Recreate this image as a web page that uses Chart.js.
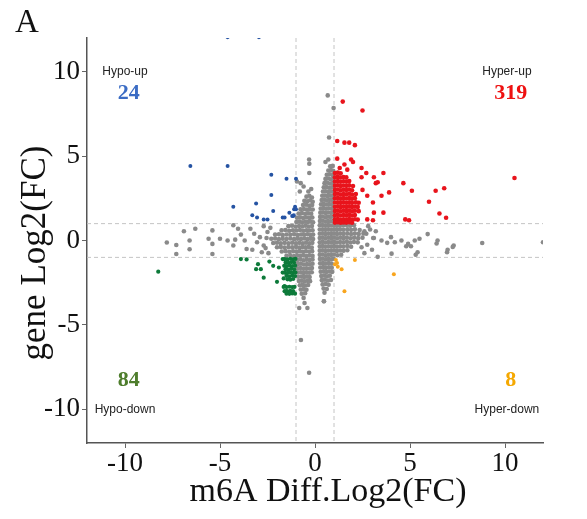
<!DOCTYPE html>
<html>
<head>
<meta charset="utf-8">
<script src="https://cdn.jsdelivr.net/npm/chart.js@4.4.1/dist/chart.umd.min.js"></script>
<style>
  body { margin: 0; background: #fff; }
</style>
</head>
<body>
<canvas id="volcano" width="587" height="519"></canvas>
<script>
// axis ticks and cut-offs
const xTicks = [-10, -5, 0, 5, 10];
const yTicks = [-10, -5, 0, 5, 10];
const cutoffs = [-1, 1];

const quadrantNames = ['Hypo-up', 'Hyper-up', 'Hypo-down', 'Hyper-down'];
const quadrantCounts = [24, 319, 84, 8];

// hypo-up (blue)
const hypoUp = [[-6.56,4.42],[-4.6,4.42],[-2.3,3.9],[-1.5,3.66],[-1.0,3.66],[-2.3,2.7],[-4.3,2.0],[-3.1,2.2],
  [-2.2,1.75],[-3.3,1.5],[-3.05,1.37],[-2.7,1.25],[-2.5,1.25],[-1.7,1.37],[-1.6,1.37],[-1.2,1.45],[-1.15,1.45],
  [-1.1,1.85],[-1.05,2.0],[-1.0,1.85],[-1.35,1.65],[-4.6,12.05],[-2.95,12.05],[-1.12,1.5]];

// hypo-down (green)
const hypoDown = [[-8.25,-1.85],[-3.9,-1.1],[-3.6,-1.12],[-3.1,-1.7],[-2.85,-1.7],[-3.0,-1.4],[-2.7,-2.2],[-2.2,-1.5],
  [-2.0,-2.45],[-1.7,-1.9],[-1.65,-2.25],[-1.7,-1.1],[-1.6,-2.7],[-1.5,-3.0],[-2.4,-1.25],[-1.9,-1.6],
  [-1.6,-1.1],[-1.45,-1.12],[-1.3,-1.08],[-1.15,-1.11],[-1.03,-1.09],
  [-1.55,-1.3],[-1.4,-1.32],[-1.25,-1.28],[-1.1,-1.31],
  [-1.62,-1.5],[-1.5,-1.52],[-1.35,-1.48],[-1.2,-1.51],[-1.05,-1.49],
  [-1.55,-1.7],[-1.4,-1.72],[-1.25,-1.68],[-1.1,-1.71],
  [-1.6,-1.9],[-1.45,-1.92],[-1.3,-1.88],[-1.15,-1.91],[-1.03,-1.89],
  [-1.5,-2.1],[-1.35,-2.12],[-1.2,-2.08],[-1.05,-2.11],
  [-1.45,-2.3],[-1.3,-2.32],[-1.15,-2.28],
  [-1.65,-2.75],[-1.5,-2.76],[-1.35,-2.74],[-1.2,-2.76],[-1.08,-2.75],
  [-1.6,-3.0],[-1.45,-3.01],[-1.3,-2.99],[-1.15,-3.0],
  [-1.5,-3.15],[-1.35,-3.16],[-1.2,-3.14],[-1.05,-3.15]];

// hyper-up (red)
const hyperUp = [[1.46,8.23],[2.5,7.7],[1.17,5.9],[1.55,5.8],[1.8,5.8],[2.1,5.65],[1.17,4.85],[1.55,4.5],[1.9,4.8],
  [2.0,4.65],[2.45,4.3],[2.7,4.0],[3.1,3.75],[3.6,4.0],[3.2,3.4],[3.3,3.45],[4.65,3.4],[3.9,2.85],[2.75,2.65],
  [3.05,2.25],[3.1,1.65],[3.05,1.2],[2.75,1.25],[3.6,1.65],[5.1,2.95],[4.75,1.25],[4.95,1.2],[6.0,2.3],
  [6.35,2.95],[6.8,3.1],[6.55,1.6],[6.9,1.35],[10.5,3.7],[3.5,2.65],[2.45,3.75],[2.5,3.0],[1.3,4.3],[1.7,4.2],
  [1.05,4.0],[1.2,4.02],[1.35,3.98],
  [1.05,3.75],[1.2,3.77],[1.35,3.73],[1.5,3.76],[1.65,3.74],
  [1.05,3.5],[1.2,3.52],[1.35,3.48],[1.5,3.51],[1.65,3.49],[1.8,3.52],
  [1.05,3.25],[1.2,3.27],[1.35,3.23],[1.5,3.26],[1.65,3.24],[1.8,3.27],[2.0,3.23],
  [1.05,3.0],[1.2,3.02],[1.35,2.98],[1.5,3.01],[1.65,2.99],[1.8,3.02],[1.95,2.98],
  [1.05,2.75],[1.2,2.77],[1.35,2.73],[1.5,2.76],[1.65,2.74],[1.8,2.77],[1.95,2.73],[2.15,2.76],
  [1.05,2.5],[1.2,2.52],[1.35,2.48],[1.5,2.51],[1.65,2.49],[1.8,2.52],[1.95,2.48],[2.1,2.51],
  [1.05,2.25],[1.2,2.27],[1.35,2.23],[1.5,2.26],[1.65,2.24],[1.8,2.27],[1.95,2.23],[2.15,2.26],[2.3,2.24],
  [1.05,2.0],[1.2,2.02],[1.35,1.98],[1.5,2.01],[1.65,1.99],[1.8,2.02],[1.95,1.98],[2.1,2.01],[2.25,1.99],
  [1.05,1.75],[1.2,1.77],[1.35,1.73],[1.5,1.76],[1.65,1.74],[1.8,1.77],[1.95,1.73],[2.1,1.76],[2.3,1.74],
  [1.05,1.5],[1.2,1.52],[1.35,1.48],[1.5,1.51],[1.65,1.49],[1.8,1.52],[1.95,1.48],[2.1,1.51],
  [1.05,1.25],[1.2,1.27],[1.35,1.23],[1.5,1.26],[1.65,1.24],[1.8,1.27],[1.95,1.23],[2.1,1.26],[2.25,1.24],
  [1.05,1.06],[1.2,1.08],[1.35,1.05],[1.5,1.07],[1.65,1.06],[1.8,1.08],[1.95,1.05]];

// hyper-down (orange)
const hyperDown = [[1.16,-1.33],[1.1,-1.15],[1.2,-1.55],[1.4,-1.7],[2.1,-1.15],[4.15,-2.0],[1.55,-3.0],[1.05,-1.4]];

// unchanged peaks (grey)
const unchanged = [
  [-0.35,2.9],[-0.2,3.05],[-0.45,2.6],[-0.3,2.65],[-0.16,2.55],
  [-0.56,2.35],[-0.41,2.33],[-0.26,2.38],[-0.12,2.3],
  [-0.63,2.1],[-0.47,2.12],[-0.31,2.07],[-0.15,2.11],
  [-0.76,1.85],[-0.59,1.87],[-0.43,1.83],[-0.27,1.86],[-0.12,1.84],
  [-0.86,1.6],[-0.69,1.62],[-0.52,1.58],[-0.36,1.61],[-0.2,1.59],
  [-0.95,1.35],[-0.79,1.37],[-0.62,1.33],[-0.46,1.36],[-0.3,1.34],[-0.14,1.36],
  [-0.98,1.1],[-0.83,1.12],[-0.68,1.08],[-0.52,1.11],[-0.37,1.09],[-0.22,1.12],[-0.1,1.08],
  [-1.4,0.85],[-1.21,0.87],[-1.02,0.83],[-0.84,0.86],[-0.66,0.84],[-0.49,0.87],[-0.33,0.83],[-0.16,0.86],
  [-1.76,0.6],[-1.56,0.62],[-1.36,0.58],[-1.16,0.61],[-0.97,0.59],[-0.79,0.62],[-0.61,0.58],[-0.45,0.61],[-0.29,0.59],[-0.13,0.61],
  [-2.1,0.35],[-1.9,0.37],[-1.7,0.33],[-1.5,0.36],[-1.3,0.34],[-1.1,0.37],[-0.91,0.33],[-0.73,0.36],[-0.56,0.34],[-0.39,0.37],[-0.23,0.33],[-0.1,0.35],
  [-2.3,0.1],[-2.1,0.12],[-1.9,0.08],[-1.7,0.11],[-1.5,0.09],[-1.3,0.12],[-1.1,0.08],[-0.92,0.11],[-0.74,0.09],[-0.57,0.12],[-0.4,0.08],[-0.24,0.11],[-0.1,0.09],
  [-2.2,-0.15],[-2.0,-0.13],[-1.8,-0.17],[-1.6,-0.14],[-1.4,-0.16],[-1.2,-0.13],[-1.0,-0.17],[-0.82,-0.14],[-0.64,-0.16],[-0.47,-0.13],[-0.3,-0.17],[-0.14,-0.14],
  [-2.0,-0.4],[-1.8,-0.38],[-1.6,-0.42],[-1.4,-0.39],[-1.2,-0.41],[-1.0,-0.38],[-0.83,-0.42],[-0.66,-0.39],[-0.5,-0.41],[-0.33,-0.38],[-0.17,-0.42],
  [-1.75,-0.65],[-1.55,-0.63],[-1.35,-0.67],[-1.15,-0.64],[-0.97,-0.66],[-0.8,-0.63],[-0.63,-0.67],[-0.47,-0.64],[-0.3,-0.66],[-0.15,-0.63],
  [-1.5,-0.9],[-1.3,-0.88],[-1.1,-0.92],[-0.93,-0.89],[-0.76,-0.91],[-0.6,-0.88],[-0.44,-0.92],[-0.28,-0.89],[-0.13,-0.91],
  [-0.92,-1.15],[-0.76,-1.13],[-0.6,-1.17],[-0.44,-1.14],[-0.28,-1.16],[-0.13,-1.13],
  [-0.9,-1.4],[-0.74,-1.38],[-0.58,-1.42],[-0.42,-1.39],[-0.27,-1.41],[-0.13,-1.38],
  [-0.92,-1.65],[-0.76,-1.63],[-0.6,-1.67],[-0.45,-1.64],[-0.3,-1.66],[-0.16,-1.63],
  [-0.9,-1.9],[-0.75,-1.88],[-0.6,-1.92],[-0.45,-1.89],[-0.3,-1.91],[-0.17,-1.88],
  [-0.88,-2.15],[-0.72,-2.13],[-0.57,-2.17],[-0.42,-2.14],[-0.28,-2.16],
  [-0.85,-2.4],[-0.7,-2.38],[-0.55,-2.42],[-0.4,-2.39],[-0.26,-2.41],
  [-0.8,-2.65],[-0.65,-2.63],[-0.5,-2.67],[-0.36,-2.64],
  [-0.75,-2.9],[-0.6,-2.88],[-0.45,-2.92],[-0.7,-3.15],[-0.52,-3.13],[-0.6,-3.4],[-0.55,-3.7],
  [0.8,4.4],[0.93,4.42],[0.7,4.15],[0.84,4.17],[0.96,4.13],
  [0.62,3.9],[0.77,3.92],[0.92,3.88],
  [0.55,3.65],[0.69,3.67],[0.83,3.63],[0.96,3.66],
  [0.5,3.4],[0.64,3.42],[0.78,3.38],[0.92,3.41],
  [0.46,3.15],[0.6,3.17],[0.74,3.13],[0.88,3.16],
  [0.42,2.9],[0.56,2.92],[0.7,2.88],[0.84,2.91],[0.97,2.89],
  [0.38,2.65],[0.52,2.67],[0.66,2.63],[0.8,2.66],[0.94,2.64],
  [0.35,2.4],[0.49,2.42],[0.63,2.38],[0.77,2.41],[0.91,2.39],
  [0.32,2.15],[0.46,2.17],[0.6,2.13],[0.74,2.16],[0.88,2.14],
  [0.3,1.9],[0.44,1.92],[0.58,1.88],[0.72,1.91],[0.86,1.89],[0.98,1.92],
  [0.28,1.65],[0.42,1.67],[0.56,1.63],[0.7,1.66],[0.84,1.64],[0.97,1.67],
  [0.27,1.4],[0.4,1.42],[0.54,1.38],[0.68,1.41],[0.82,1.39],[0.95,1.42],
  [0.26,1.15],[0.4,1.17],[0.54,1.13],[0.68,1.16],[0.82,1.14],[0.96,1.17],
  [0.25,0.9],[0.4,0.92],[0.55,0.88],[0.7,0.91],[0.85,0.89],[1.0,0.92],[1.15,0.88],[1.3,0.91],[1.48,0.89],[1.66,0.92],[1.85,0.88],[2.05,0.9],
  [0.25,0.65],[0.4,0.67],[0.55,0.63],[0.7,0.66],[0.85,0.64],[1.0,0.67],[1.16,0.63],[1.32,0.66],[1.5,0.64],[1.7,0.67],[1.9,0.63],[2.1,0.66],[2.35,0.62],
  [0.25,0.4],[0.4,0.42],[0.55,0.38],[0.7,0.41],[0.85,0.39],[1.0,0.42],[1.16,0.38],[1.33,0.41],[1.5,0.39],[1.7,0.42],[1.9,0.38],[2.1,0.41],[2.3,0.39],[2.55,0.42],
  [0.25,0.15],[0.4,0.17],[0.55,0.13],[0.7,0.16],[0.85,0.14],[1.0,0.17],[1.16,0.13],[1.33,0.16],[1.5,0.14],[1.68,0.17],[1.87,0.13],[2.06,0.16],[2.27,0.14],[2.5,0.17],
  [0.25,-0.1],[0.4,-0.08],[0.55,-0.12],[0.7,-0.09],[0.85,-0.11],[1.0,-0.08],[1.15,-0.12],[1.32,-0.09],[1.5,-0.11],[1.68,-0.08],[1.86,-0.12],[2.05,-0.09],[2.25,-0.11],
  [0.25,-0.35],[0.4,-0.33],[0.55,-0.37],[0.7,-0.34],[0.85,-0.36],[1.0,-0.33],[1.16,-0.37],[1.33,-0.34],[1.5,-0.36],[1.7,-0.33],[1.9,-0.37],
  [0.25,-0.6],[0.4,-0.58],[0.55,-0.62],[0.7,-0.59],[0.85,-0.61],[1.0,-0.58],[1.15,-0.62],[1.32,-0.59],[1.5,-0.61],[1.7,-0.58],
  [0.25,-0.85],[0.4,-0.83],[0.55,-0.87],[0.7,-0.84],[0.85,-0.86],[1.0,-0.83],[1.18,-0.87],[1.38,-0.84],
  [0.26,-1.1],[0.4,-1.08],[0.55,-1.12],[0.7,-1.09],[0.85,-1.11],[0.97,-1.08],
  [0.27,-1.35],[0.42,-1.33],[0.57,-1.37],[0.72,-1.34],[0.87,-1.36],
  [0.28,-1.6],[0.43,-1.58],[0.58,-1.62],[0.73,-1.59],[0.88,-1.61],
  [0.3,-1.85],[0.45,-1.83],[0.6,-1.87],[0.75,-1.84],[0.9,-1.86],
  [0.33,-2.1],[0.48,-2.08],[0.63,-2.12],[0.78,-2.09],
  [0.36,-2.35],[0.52,-2.33],[0.68,-2.37],[0.84,-2.34],
  [0.4,-2.6],[0.56,-2.58],[0.72,-2.62],[0.45,-2.85],[0.62,-2.87],[0.5,-3.1],[0.47,-3.6],
  [-7.8,-0.12],[-7.3,-0.27],[-6.9,0.55],[-7.3,-0.8],[-6.6,-0.52],[-6.6,0.0],[-6.3,0.7],[-5.6,0.1],[-5.4,0.6],
  [-5.4,-0.2],[-5.0,0.1],[-4.6,0.0],[-4.3,0.9],[-4.3,-0.3],[-4.05,0.7],[-3.7,0.0],[-3.6,-0.5],[-3.2,0.4],
  [-3.05,-0.1],[-2.7,-0.3],[-4.2,0.05],[-5.4,-0.8],[-3.4,0.7],[-2.5,0.5],[-2.6,-0.45],[-2.9,0.2],[-2.45,-0.75],
  [-2.7,0.85],[-3.3,-0.55],[-2.35,0.75],[-2.8,-0.7],[-3.9,0.35],[-2.55,0.15],
  [0.67,8.6],[0.98,7.85],[0.74,6.1],[-0.31,4.8],[-0.3,4.55],[-0.3,4.0],[-0.95,3.5],[-0.75,3.4],[-0.8,2.9],
  [-0.6,3.2],[-0.74,-5.9],[-0.31,-7.84],[-0.4,-4.0],[-0.83,-4.0],[0.47,-3.6],[0.7,4.8],[0.55,4.65],
  [5.93,0.38],[6.45,0.0],[6.98,-0.55],[7.3,-0.3],[8.8,-0.15],[12.0,-0.1],[4.55,0.0],[5.25,0.0],[5.5,0.1],
  [4.9,-0.2],[5.4,-0.7],[4.0,0.2],[3.5,0.0],[3.06,0.15],[2.7,0.4],[4.2,-0.1],[3.2,0.55],[6.4,-0.18],
  [7.25,-0.38],[6.95,-0.7],[5.3,-0.84],[4.03,-0.78],[3.3,-0.97],[5.05,-0.34],[4.8,-0.34],[3.8,-0.14],
  [3.1,0.15],[2.8,0.85],[2.9,0.65],[2.6,0.55],[2.75,-0.25],[3.0,-0.55],[2.6,-0.75],[2.45,-0.4]
];

const toPts = arr => arr.map(p => ({ x: p[0], y: p[1] }));

function ds(arr, color, radius, order) {
  return {
    data: toPts(arr),
    backgroundColor: color,
    borderWidth: 0,
    pointRadius: radius,
    pointHoverRadius: radius,
    order: order,
    clip: 0
  };
}

// dashed cut-off lines and quadrant text
const decorations = {
  id: 'decorations',
  beforeDatasetsDraw(chart) {
    const { ctx, chartArea: a, scales: { x, y } } = chart;
    ctx.save();
    ctx.strokeStyle = '#c4c4c4';
    ctx.lineWidth = 1;
    ctx.setLineDash([4, 3]);
    cutoffs.forEach(c => {
      const px = x.getPixelForValue(c);
      ctx.beginPath(); ctx.moveTo(px, a.top); ctx.lineTo(px, a.bottom); ctx.stroke();
      const py = y.getPixelForValue(c);
      ctx.beginPath(); ctx.moveTo(a.left, py); ctx.lineTo(a.right, py); ctx.stroke();
    });
    ctx.restore();
  },
  afterDraw(chart) {
    const { ctx, scales: { x, y } } = chart;
    ctx.save();
    ctx.textAlign = 'center';
    ctx.textBaseline = 'middle';

    const spots = [[-10, 10, 8.7], [10.1, 10, 8.7], [-10, -10.05, -8.3], [10.1, -10.05, -8.3]];
    const numColors = ['#3b6cc4', '#ee1111', '#4e7d2c', '#f5a800'];
    spots.forEach((s, i) => {
      ctx.font = '12px "Liberation Sans", Arial, sans-serif';
      ctx.fillStyle = '#222';
      ctx.fillText(quadrantNames[i], x.getPixelForValue(s[0]), y.getPixelForValue(s[1]));
      ctx.font = 'bold 22px "Liberation Serif", "Times New Roman", serif';
      ctx.fillStyle = numColors[i];
      ctx.fillText(String(quadrantCounts[i]), x.getPixelForValue(s[0] + 0.2), y.getPixelForValue(s[2]));
    });

    // panel letter and axis titles
    ctx.fillStyle = '#111';
    ctx.textAlign = 'left';
    ctx.textBaseline = 'alphabetic';
    ctx.font = '33px "Liberation Serif", "Times New Roman", serif';
    ctx.fillText('A', 15, 32);

    ctx.textAlign = 'center';
    ctx.font = '34px "Liberation Serif", "Times New Roman", serif';
    ctx.fillText('m6A Diff.Log2(FC)', 328, 501);

    ctx.translate(45, 253);
    ctx.rotate(-Math.PI / 2);
    ctx.font = '35px "Liberation Serif", "Times New Roman", serif';
    ctx.fillText('gene Log2(FC)', 0, 0);
    ctx.restore();
  }
};

const tickFont = { family: '"Liberation Serif", "Times New Roman", serif', size: 27 };

new Chart(document.getElementById('volcano'), {
  type: 'scatter',
  data: {
    datasets: [
      ds(hyperUp, '#e8141c', 2.3, 0),
      ds(hypoUp, '#2553a3', 2.0, 0),
      ds(hypoDown, '#0d7a3a', 2.1, 0),
      ds(hyperDown, '#f8a51e', 2.0, 0),
      ds(unchanged, '#8a8a8a', 2.3, 1)
    ]
  },
  options: {
    responsive: false,
    animation: false,
    devicePixelRatio: 1,
    layout: { padding: { top: 38, right: 44, left: 0, bottom: 0 } },
    plugins: { legend: { display: false }, tooltip: { enabled: false } },
    scales: {
      x: {
        type: 'linear', min: -12, max: 12,
        afterBuildTicks: s => { s.ticks = xTicks.map(v => ({ value: v })); },
        afterFit: s => { s.height = 76; },
        grid: { drawOnChartArea: false, drawTicks: true, tickLength: 5, color: '#666' },
        border: { color: '#555', width: 1.5 },
        ticks: { font: tickFont, color: '#111', padding: 0 }
      },
      y: {
        type: 'linear', min: -12, max: 12,
        afterBuildTicks: s => { s.ticks = yTicks.map(v => ({ value: v })); },
        afterFit: s => { s.width = 87; },
        grid: { drawOnChartArea: false, drawTicks: true, tickLength: 5, color: '#666' },
        border: { color: '#555', width: 1.5 },
        ticks: { font: tickFont, color: '#111', padding: 2 }
      }
    }
  },
  plugins: [decorations]
});
</script>
</body>
</html>
